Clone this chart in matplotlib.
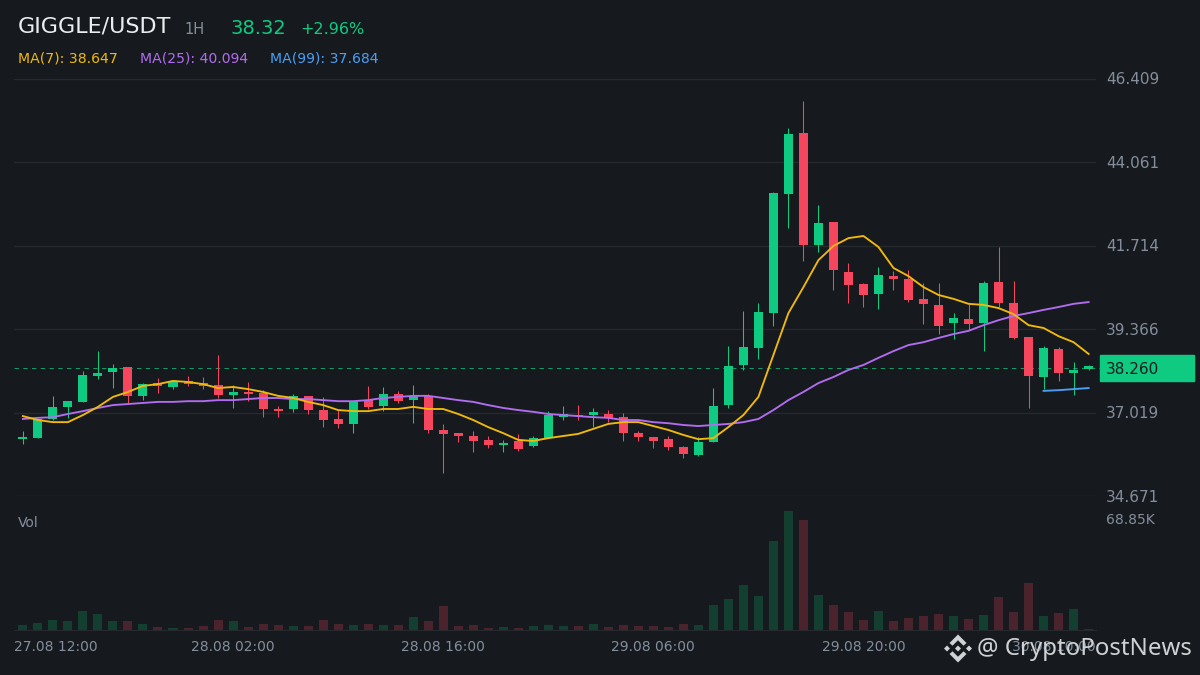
import numpy as np
import matplotlib
matplotlib.use("Agg")
import matplotlib.pyplot as plt
from matplotlib.patches import Polygon, Rectangle

W, H = 1200, 675
BG = "#161a1e"
GREEN = "#0ecb81"
RED = "#f6465d"
VOL_GREEN = "#123f2f"
VOL_RED = "#4a232c"
GRID = "#26292e"
GRAY = "#848e9c"

opens = [36.28, 36.30, 36.84, 37.18, 37.32, 38.05, 38.16, 38.30, 37.49, 37.84, 37.74, 37.91,
         37.85, 37.79, 37.51, 37.60, 37.57, 37.12, 37.12, 37.49, 37.09, 36.84, 36.70, 37.37,
         37.20, 37.54, 37.37, 37.49, 36.53, 36.44, 36.36, 36.25, 36.11, 36.22, 36.08, 36.30,
         36.89, 36.95, 36.95, 36.98, 36.89, 36.44, 36.33, 36.27, 36.05, 35.83, 36.19, 37.23,
         38.36, 38.84, 39.82, 43.17, 44.89, 41.74, 42.38, 40.98, 40.64, 40.36, 40.86, 40.78,
         40.22, 40.05, 39.54, 39.65, 39.54, 40.70, 40.10, 39.15, 38.02, 38.81, 38.13, 38.25]
highs = [36.50, 36.84, 37.49, 37.34, 38.19, 38.75, 38.39, 38.30, 37.85, 37.99, 37.91, 38.05,
         38.02, 38.64, 37.79, 37.88, 37.65, 37.20, 37.54, 37.49, 37.46, 37.09, 37.34, 37.77,
         37.74, 37.63, 37.79, 37.54, 36.70, 36.44, 36.50, 36.36, 36.25, 36.42, 36.36, 37.06,
         37.20, 37.23, 37.15, 37.09, 37.01, 36.50, 36.33, 36.36, 36.08, 36.33, 37.71, 38.89,
         39.88, 40.10, 43.23, 45.03, 45.79, 42.86, 42.38, 41.23, 40.67, 41.12, 41.00, 41.03,
         40.67, 40.67, 39.82, 40.08, 40.72, 41.68, 40.72, 39.15, 38.89, 38.87, 38.44, 38.36]
lows = [36.13, 36.30, 36.81, 36.87, 37.32, 37.96, 37.71, 37.29, 37.37, 37.57, 37.68, 37.77,
        37.68, 37.43, 37.15, 37.34, 36.89, 36.89, 37.04, 36.98, 36.61, 36.58, 36.44, 37.12,
        37.06, 37.29, 36.72, 36.44, 35.32, 36.19, 35.91, 36.02, 35.91, 35.94, 36.05, 36.30,
        36.81, 36.81, 36.61, 36.75, 36.22, 36.22, 36.02, 35.97, 35.74, 35.80, 36.19, 37.15,
        38.22, 38.53, 39.46, 42.21, 41.29, 41.54, 40.47, 40.10, 39.99, 39.93, 40.47, 40.13,
        39.51, 39.23, 39.09, 39.34, 38.75, 39.99, 39.09, 37.15, 37.68, 37.91, 37.51, 38.22]
closes = [36.33, 36.84, 37.18, 37.34, 38.08, 38.13, 38.27, 37.49, 37.82, 37.77, 37.91, 37.82,
          37.77, 37.51, 37.60, 37.54, 37.12, 37.06, 37.49, 37.09, 36.81, 36.70, 37.34, 37.18,
          37.54, 37.34, 37.49, 36.53, 36.42, 36.36, 36.22, 36.11, 36.16, 35.99, 36.30, 36.95,
          36.98, 36.92, 37.04, 36.87, 36.44, 36.33, 36.22, 36.05, 35.85, 36.19, 37.20, 38.33,
          38.87, 39.85, 43.20, 44.86, 41.74, 42.36, 41.03, 40.61, 40.33, 40.89, 40.78, 40.19,
          40.08, 39.46, 39.68, 39.51, 40.67, 40.10, 39.12, 38.05, 38.84, 38.13, 38.22, 38.32]

ma7 = [36.92, 36.81, 36.75, 36.75, 36.95, 37.18, 37.46, 37.60, 37.77, 37.82, 37.91, 37.88,
       37.82, 37.71, 37.74, 37.68, 37.60, 37.49, 37.43, 37.32, 37.23, 37.09, 37.06, 37.06,
       37.12, 37.12, 37.18, 37.12, 37.12, 36.98, 36.81, 36.61, 36.44, 36.25, 36.22, 36.30,
       36.36, 36.42, 36.56, 36.70, 36.75, 36.75, 36.64, 36.53, 36.39, 36.27, 36.30, 36.61,
       36.95, 37.46, 38.64, 39.82, 40.55, 41.31, 41.71, 41.93, 41.99, 41.68, 41.09, 40.86,
       40.55, 40.33, 40.22, 40.08, 40.05, 39.96, 39.79, 39.48, 39.40, 39.17, 39.00, 38.67]
ma25 = [36.84, 36.87, 36.89, 36.98, 37.06, 37.15, 37.23, 37.26, 37.29, 37.32, 37.32, 37.34,
        37.34, 37.37, 37.37, 37.40, 37.43, 37.43, 37.40, 37.40, 37.37, 37.34, 37.34, 37.37,
        37.43, 37.46, 37.49, 37.49, 37.43, 37.37, 37.32, 37.23, 37.15, 37.09, 37.04, 36.98,
        36.95, 36.92, 36.89, 36.87, 36.81, 36.81, 36.75, 36.72, 36.67, 36.64, 36.67, 36.70,
        36.75, 36.84, 37.09, 37.37, 37.60, 37.85, 38.02, 38.22, 38.36, 38.56, 38.75, 38.92,
        39.00, 39.12, 39.23, 39.32, 39.48, 39.62, 39.74, 39.82, 39.91, 39.99, 40.08, 40.13]
ma99_start = 68
ma99 = [37.63, 37.65, 37.68, 37.71]

volumes = [2.9, 4.05, 5.8, 5.2, 11.0, 9.3, 5.2, 5.2, 3.5, 1.7, 1.2, 1.2,
           2.3, 5.8, 5.2, 1.7, 3.5, 2.9, 2.3, 2.3, 5.8, 3.5, 2.9, 3.5,
           2.9, 2.9, 7.5, 5.2, 13.9, 2.3, 2.9, 1.2, 1.7, 1.2, 2.3, 2.9,
           2.3, 2.3, 3.5, 1.7, 2.9, 2.3, 2.3, 1.7, 3.5, 2.9, 14.5, 17.9,
           26.0, 19.7, 51.5, 68.85, 63.7, 20.3, 14.5, 10.4, 5.8, 11.0, 5.2, 6.9,
           8.1, 9.3, 8.1, 6.4, 8.7, 19.1, 10.4, 27.2, 8.1, 9.8, 12.2, 0.6]

price_ticks = [46.409, 44.061, 41.714, 39.366, 37.019, 34.671]
last_price = 38.26
time_idx = [0, 14, 28, 42, 56, 70]
time_labels = ["27.08 12:00", "28.08 02:00", "28.08 16:00", "29.08 06:00", "29.08 20:00", "30.08 10:00"]


def px_axes(fig, left, top, right, bottom):
    return fig.add_axes([left / W, 1 - bottom / H, (right - left) / W, (bottom - top) / H])


def fig_text(fig, x, y, s, **kw):
    kw.setdefault("va", "center")
    return fig.text(x / W, 1 - y / H, s, **kw)


def fig_poly(fig, points, cx, cy, color):
    pts = [((cx + px) / W, 1 - (cy + py) / H) for px, py in points]
    fig.patches.append(Polygon(pts, transform=fig.transFigure, color=color, lw=0, zorder=6))


plt.rcParams["font.family"] = "DejaVu Sans"
fig = plt.figure(figsize=(W / 100, H / 100), dpi=100, facecolor=BG)

x = np.arange(len(closes))
opens_a = np.array(opens)
closes_a = np.array(closes)
up = closes_a >= opens_a
colors = [GREEN if u else RED for u in up]

ax = px_axes(fig, 14, 79, 1096, 496)
ax.set_facecolor("none")
ax.set_xlim((14 - 22.9) / 15.01, (1096 - 22.9) / 15.01)
ax.set_ylim(price_ticks[-1], price_ticks[0])
ax.set_yticks(price_ticks)
ax.set_xticks([])
ax.tick_params(left=False, labelleft=False)
ax.grid(axis="y", color=GRID, lw=0.9)
ax.set_axisbelow(True)
for s in ax.spines.values():
    s.set_visible(False)

ax.vlines(x, lows, highs, colors=colors, lw=0.75, zorder=2)
ax.bar(x, np.abs(closes_a - opens_a), bottom=np.minimum(opens_a, closes_a), width=0.6, color=colors, zorder=3)

ax.plot(x, ma25, color="#b26cf0", lw=1.35, zorder=4)
ax.plot(x, ma7, color="#f0b90b", lw=1.35, zorder=5)
ax.plot(x[ma99_start:], ma99, color="#4a9ff5", lw=1.35, zorder=4)

# last price line goes on past the plot area up to the box
ax.plot([0, 1.004], [last_price, last_price], transform=ax.get_yaxis_transform(), color=GREEN,
        lw=0.7, alpha=0.75, dashes=(4.5, 4.5), clip_on=False, zorder=1)

for t in price_ticks:
    ax.annotate(f"{t:.3f}", (1, t), xycoords=ax.get_yaxis_transform(), xytext=(10, -1),
                textcoords="offset pixels", color=GRAY, fontsize=11, va="center", ha="left")

fig.patches.append(Rectangle((1100 / W, 1 - 381 / H), 94 / W, 26 / H, transform=fig.transFigure,
                             color=GREEN, zorder=3))
fig_text(fig, 1106, 369.5, f"{last_price:.3f}", color="#161a1e", fontsize=11, zorder=4)

ax_vol = px_axes(fig, 14, 511, 1096, 630)
ax_vol.set_facecolor("none")
ax_vol.set_xlim(ax.get_xlim())
ax_vol.set_ylim(0, max(volumes))
ax_vol.bar(x, volumes, width=0.6, color=[VOL_GREEN if u else VOL_RED for u in up])
ax_vol.set_xticks([])
ax_vol.set_yticks([])
for s in ax_vol.spines.values():
    s.set_visible(False)
ax_vol.spines["bottom"].set_visible(True)
ax_vol.spines["bottom"].set_color(GRID)

tr = ax_vol.get_xaxis_transform()
for i, lab in zip(time_idx, time_labels):
    # first and last label get pushed inside the chart edges
    if i == time_idx[0]:
        ax_vol.text(0, -0.14, lab, transform=ax_vol.transAxes, ha="left", va="center", color=GRAY, fontsize=10)
    elif i == time_idx[-1]:
        ax_vol.text(1, -0.14, lab, transform=ax_vol.transAxes, ha="right", va="center", color=GRAY, fontsize=10)
    else:
        ax_vol.text(i, -0.14, lab, transform=tr, ha="center", va="center", color=GRAY, fontsize=10)

fig_text(fig, 18, 523, "Vol", color=GRAY, fontsize=10)
fig_text(fig, 1106, 520.5, "68.85K", color=GRAY, fontsize=10)

fig_text(fig, 18, 27, "GIGGLE/USDT", color="#eaecef", fontsize=16)
fig_text(fig, 184, 30, "1H", color=GRAY, fontsize=10.5)
fig_text(fig, 231, 28, "38.32", color=GREEN, fontsize=14)
fig_text(fig, 300, 29, "+2.96%", color=GREEN, fontsize=11.5)
fig_text(fig, 18, 58, "MA(7): 38.647", color="#f0b90b", fontsize=10.1)
fig_text(fig, 140, 58, "MA(25): 40.094", color="#b26cf0", fontsize=10.1)
fig_text(fig, 270, 58, "MA(99): 37.684", color="#4a9ff5", fontsize=10.1)

# watermark: binance style logo and handle
logo = "#d0d2d5"
chevron = [(0, -14), (8.5, -5.5), (5.5, -2.8), (0, -8.2), (-5.5, -2.8), (-8.5, -5.5)]
diamond = [(-3, 0), (0, -3), (3, 0), (0, 3)]
fig_poly(fig, chevron, 958, 648.5, logo)
fig_poly(fig, [(px, -py) for px, py in chevron], 958, 648.5, logo)
for cx in (947, 958, 969):
    fig_poly(fig, diamond, cx, 648.5, logo)
fig_text(fig, 977, 649, "@ CryptoPostNews", color="#cfd1d4", fontsize=17.3, family="Noto Sans", zorder=6)

fig.savefig("out.png", dpi=100, facecolor=BG)
